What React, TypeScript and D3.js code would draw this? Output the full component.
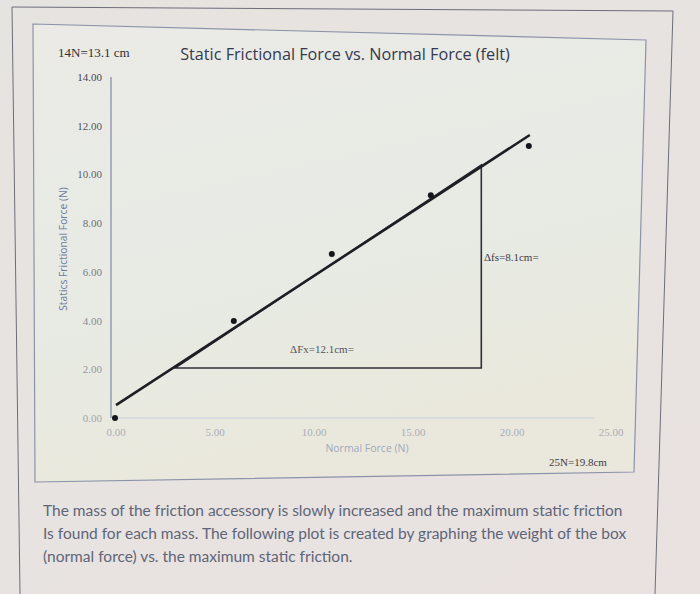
import React from 'react';
import { scaleLinear, line, interpolateRgb } from 'd3';

// values
const normalForce = [0, 6.0, 10.95, 15.95, 20.9];
const staticFriction = [0, 3.98, 6.73, 9.15, 11.17];
const fitX = [0.05, 20.95];
const fitY = [0.53, 11.62];
const triX = [3.03, 18.5];
const triY = [2.05, 10.39];
const xTicks = [0, 5, 10, 15, 20, 25];
const yTicks = [0, 2, 4, 6, 8, 10, 12, 14];

const W = 700;
const H = 594;

const bodyLines = [
  'The mass of the friction accessory is slowly increased and the maximum static friction',
  'Is found for each mass. The following plot is created by graphing the weight of the box',
  '(normal force) vs. the maximum static friction.',
];

const App: React.FC = () => {
  const x = scaleLinear().domain([0, 25]).range([115, 610]);
  const y = scaleLinear().domain([0, 14]).range([418, 77]);
  const yColor = interpolateRgb('#a4a4ab', '#45464f');

  const fitPath = line<number>()
    .x(d => x(d))
    .y((_, i) => y(fitY[i]))(fitX);

  const triPath =
    line<[number, number]>()
      .x(d => x(d[0]))
      .y(d => y(d[1]))([
      [triX[0], triY[0]],
      [triX[1], triY[0]],
      [triX[1], triY[1]],
    ]) + 'Z';

  return (
    <svg
      width={W}
      height={H}
      style={{ position: 'absolute', left: 0, top: 0, display: 'block' }}
    >
      <defs>
        <linearGradient id="bg" x1="0" y1="0" x2="1" y2="1">
          <stop offset="0" stopColor="#e6e4e0" />
          <stop offset="1" stopColor="#e9e2e0" />
        </linearGradient>
        <linearGradient id="plot" x1="0" y1="0" x2="0.3" y2="1">
          <stop offset="0" stopColor="#ebeae6" />
          <stop offset="0.6" stopColor="#e7ebe4" />
          <stop offset="1" stopColor="#eae8dc" />
        </linearGradient>
      </defs>
      <rect width={W} height={H} fill="url(#bg)" />
      {/* outer panel frame (photo is slightly keystoned) */}
      <path d="M20,594 L12,7 L673,11 L655,594" fill="none" stroke="#6d6d7a" strokeWidth={1} />
      {/* chart frame */}
      <path
        d="M33,24 L646,40 L634,472 L35,482 Z"
        fill="url(#plot)"
        stroke="#8c92aa"
        strokeWidth={1.2}
      />

      <text x={58} y={57} fontFamily="Liberation Serif" fontSize={13} fill="#2e2e36">
        14N=13.1 cm
      </text>
      <text
        x={345}
        y={60}
        textAnchor="middle"
        fontFamily="Open Sans"
        fontSize={16.2}
        fill="#343950"
      >
        Static Frictional Force vs. Normal Force (felt)
      </text>

      {/* axes */}
      <line x1={111} x2={111} y1={y(14)} y2={y(0)} stroke="#7f88a8" strokeWidth={1.2} />
      <line x1={x(0)} x2={x(24.2)} y1={y(0)} y2={y(0)} stroke="#c4cfe0" strokeWidth={1} />

      {yTicks.map(t => (
        <text
          key={'y' + t}
          x={102}
          y={y(t) + 4}
          textAnchor="end"
          fontFamily="Liberation Serif"
          fontSize={11}
          fill={yColor(t / 14)}
        >
          {t.toFixed(2)}
        </text>
      ))}
      {xTicks.map(t => (
        <text
          key={'x' + t}
          x={x(t) + 1}
          y={436}
          textAnchor="middle"
          fontFamily="Liberation Serif"
          fontSize={11}
          fill="#a9adb8"
        >
          {t.toFixed(2)}
        </text>
      ))}

      <text
        transform="translate(67,249) rotate(-90)"
        textAnchor="middle"
        fontFamily="Open Sans"
        fontSize={10.3}
        fill="#6f7ba0"
      >
        Statics Frictional Force (N)
      </text>
      <text x={367} y={452} textAnchor="middle" fontFamily="Open Sans" fontSize={10.5} fill="#9ea8c0">
        Normal Force (N)
      </text>
      <text x={578} y={466} textAnchor="middle" fontFamily="Liberation Serif" fontSize={11} fill="#3c3c46">
        25N=19.8cm
      </text>

      {/* hand-drawn slope triangle */}
      <path d={triPath} fill="none" stroke="#2f2f38" strokeWidth={1.6} />
      <text x={322} y={353} textAnchor="middle" fontFamily="Liberation Serif" fontSize={11} fill="#55555f">
        ΔFx=12.1cm=
      </text>
      <text x={484} y={261} fontFamily="Liberation Serif" fontSize={11} fill="#3c3c46">
        Δfs=8.1cm=
      </text>

      {/* best-fit line */}
      <path d={fitPath ?? ''} fill="none" stroke="#1e1e24" strokeWidth={2.6} />

      {normalForce.map((v, i) => (
        <circle key={i} cx={x(v)} cy={y(staticFriction[i])} r={3} fill="#15151b" />
      ))}

      {bodyLines.map((l, i) => (
        <text
          key={i}
          x={43}
          y={516 + i * 23}
          fontFamily="Lato"
          fontSize={15.5}
          fill="#5f6578"
        >
          {l}
        </text>
      ))}
    </svg>
  );
};

export default App;
